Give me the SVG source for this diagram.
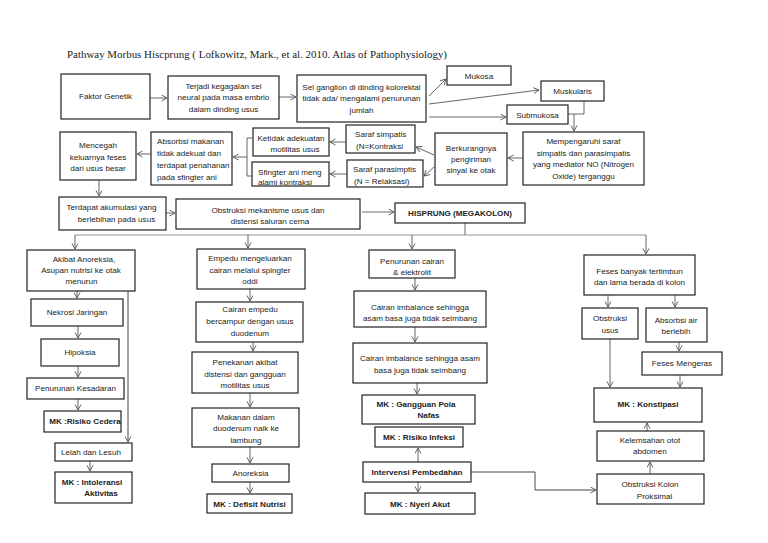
<svg xmlns="http://www.w3.org/2000/svg" width="768" height="543" viewBox="0 0 768 543">
<style>
.bx{fill:#fff;stroke:#222;stroke-width:1.2}
.t{font-family:"Liberation Sans",Arial,sans-serif;font-size:8.1px;fill:#222;text-anchor:middle}
.b{font-weight:bold}
.l{text-anchor:start}
.c{fill:none;stroke:#555;stroke-width:0.9}
.a{marker-end:url(#ar)}
.title{font-family:"Liberation Serif","Times New Roman",serif;font-size:11px;fill:#222}
</style>
<defs>
<marker id="ar" markerUnits="userSpaceOnUse" markerWidth="8" markerHeight="8" refX="6" refY="3.5" orient="auto">
<path d="M0.5,0.5 L6,3.5 L0.5,6.5" fill="none" stroke="#555" stroke-width="0.9"/>
</marker>
</defs>
<rect width="768" height="543" fill="#fff"/>
<text class="title" x="67" y="58" textLength="380" lengthAdjust="spacingAndGlyphs">Pathway Morbus Hiscprung ( Lofkowitz, Mark., et al. 2010. Atlas of Pathophysiology)</text>

<g id="connectors">
<path class="c a" d="M150,98 H167"/>
<path class="c a" d="M279,97 H296"/>
<path class="c a" d="M429,96 L446,79"/>
<path class="c a" d="M429,104 L539,90"/>
<path class="c a" d="M429,117 H506"/>
<path class="c" d="M584,101 V114 H568"/>
<path class="c a" d="M574,114 V131"/>
<path class="c a" d="M523,158 H508"/>
<path class="c a" d="M434,155 L416,147"/>
<path class="c a" d="M434,167 L424,176"/>
<path class="c a" d="M346,142 H330"/>
<path class="c a" d="M347,174 H330"/>
<path class="c" d="M252,138 H247 V176 H252"/>
<path class="c a" d="M247,157 H233"/>
<path class="c a" d="M151,154 H137"/>
<path class="c a" d="M99,180 V196"/>
<path class="c a" d="M166,213 H175"/>
<path class="c a" d="M362,212 H394"/>
<path class="c" d="M465,223 V235"/>
<path class="c" d="M75,235 H646" stroke-width="1.6" style="stroke:#888"/>
<path class="c a" d="M75,235 V249"/>
<path class="c a" d="M248,235 V248"/>
<path class="c a" d="M412,235 V249"/>
<path class="c a" d="M646,235 V254"/>
<path class="c a" d="M77,291 V298"/>
<path class="c a" d="M78,326 V338"/>
<path class="c a" d="M78,366 V377"/>
<path class="c a" d="M78,399 V410"/>
<path class="c a" d="M128,291 V442" style="stroke:#333"/>
<path class="c a" d="M90,461 V471"/>
<path class="c a" d="M250,289 V301"/>
<path class="c a" d="M253,342 V351"/>
<path class="c a" d="M250,393 V407"/>
<path class="c a" d="M250,447 V463"/>
<path class="c a" d="M250,482 V493"/>
<path class="c a" d="M415,278 V290"/>
<path class="c a" d="M415,327 V342"/>
<path class="c a" d="M417,383 V394"/>
<path class="c a" d="M418,462 V448"/>
<path class="c a" d="M418,482 V492"/>
<path class="c a" d="M471,472 H535 V490 H596" style="stroke:#333"/>
<path class="c a" d="M608,295 V307"/>
<path class="c a" d="M675,295 V307"/>
<path class="c a" d="M679,342 V351"/>
<path class="c a" d="M610,339 V387"/>
<path class="c a" d="M680,375 V387"/>
<path class="c a" d="M647,431 V423"/>
<path class="c a" d="M650,474 V462"/>
</g>

<g id="faktor"><rect class="bx" x="61" y="74" width="89" height="45"/><text class="t" x="105.5" y="99.3">Faktor Genetik</text></g>
<g id="terjadi"><rect class="bx" x="168" y="76" width="111" height="43"/><text class="t" x="223.5" y="88.8">Terjadi kegagalan sel</text><text class="t" x="223.5" y="100.3">neural pada masa embrio</text><text class="t" x="223.5" y="111.8">dalam dinding usus</text></g>
<g id="ganglion"><rect class="bx" x="297" y="75" width="129" height="47"/><text class="t" x="361.5" y="89.8">Sel ganglion di dinding kolorektal</text><text class="t" x="361.5" y="101.3">tidak ada/ mengalami penurunan</text><text class="t" x="361.5" y="112.8">jumlah</text></g>
<g id="mukosa"><rect class="bx" x="447" y="66" width="64" height="19"/><text class="t" x="479" y="78.5">Mukosa</text></g>
<g id="muskularis"><rect class="bx" x="541" y="81" width="63" height="20"/><text class="t" x="572.5" y="94">Muskularis</text></g>
<g id="submukosa"><rect class="bx" x="507" y="105" width="61" height="19"/><text class="t" x="537.5" y="117.5">Submukosa</text></g>
<g id="mempengaruhi"><rect class="bx" x="523" y="132" width="121" height="53"/><text class="t" x="583.5" y="144">Mempengaruhi saraf</text><text class="t" x="583.5" y="155.5">simpatis dan parasimpatis</text><text class="t" x="583.5" y="167">yang mediator NO (Nitrogen</text><text class="t" x="583.5" y="178.5">Oxide) terganggu</text></g>
<g id="berkurangnya"><rect class="bx" x="435" y="133" width="72" height="52"/><text class="t" x="471" y="150.8">Berkurangnya</text><text class="t" x="471" y="162">pengiriman</text><text class="t" x="471" y="173.3">sinyal ke otak</text></g>
<g id="simpatis"><rect class="bx" x="346" y="125" width="69" height="28"/><text class="t l" x="355" y="137">Saraf simpatis</text><text class="t l" x="356" y="148.5">(N=Kontraksi</text></g>
<g id="parasimpatis"><rect class="bx" x="347" y="160" width="76" height="27"/><text class="t l" x="353" y="172">Saraf parasimptis</text><text class="t l" x="354" y="184">(N = Relaksasi)</text></g>
<g id="ketidak"><rect class="bx" x="253" y="128" width="76" height="28"/><text class="t" x="291" y="141">Ketidak adekuatan</text><text class="t" x="295" y="152">motilitas usus</text></g>
<g id="sfingter"><rect class="bx" x="252" y="162" width="77" height="24"/><text class="t l" x="258" y="174.5">Sfingter ani meng</text><text class="t l" x="258" y="184.5">alami kontraksi</text></g>
<g id="absorbsi-makanan"><rect class="bx" x="151" y="132" width="81" height="53"/><text class="t l" x="157" y="144">Absorbsi makanan</text><text class="t l" x="157" y="156">tidak adekuat dan</text><text class="t l" x="157" y="168">terdapat penahanan</text><text class="t l" x="157" y="180">pada sfingter ani</text></g>
<g id="mencegah"><rect class="bx" x="60" y="132" width="76" height="48"/><text class="t" x="98" y="148">Mencegah</text><text class="t" x="98" y="160">keluarnya feses</text><text class="t" x="98" y="171">dari usus besar</text></g>
<g id="terdapat"><rect class="bx" x="59" y="197" width="107" height="33"/><text class="t" x="111.5" y="210">Terdapat akumulasi yang</text><text class="t" x="116.5" y="222">berlebihan pada usus</text></g>
<g id="obstruksi-mekanisme"><rect class="bx" x="176" y="199" width="184" height="30"/><text class="t" x="268" y="213">Obstruksi mekanisme usus dan</text><text class="t" x="270" y="224">distensi saluran cerna</text></g>
<g id="hisprung"><rect class="bx" x="395" y="203" width="130" height="20"/><text class="t b" x="460" y="215.5">HISPRUNG (MEGAKOLON)</text></g>

<g id="akibat"><rect class="bx" x="27" y="250" width="108" height="41"/><text class="t" x="84" y="262">Akibat Anoreksia,</text><text class="t" x="81" y="273">Asupan nutrisi ke otak</text><text class="t" x="81.5" y="284">menurun</text></g>
<g id="nekrosi"><rect class="bx" x="31" y="299" width="92" height="27"/><text class="t" x="77" y="315">Nekrosi Jaringan</text></g>
<g id="hipoksia"><rect class="bx" x="41" y="339" width="78" height="27"/><text class="t" x="80" y="355">Hipoksia</text></g>
<g id="kesadaran"><rect class="bx" x="27" y="378" width="97" height="21"/><text class="t" x="75.5" y="391">Penurunan Kesadaran</text></g>
<g id="cedera"><rect class="bx" x="44" y="411" width="77" height="21"/><text class="t b" x="85" y="424">MK :Risiko Cedera</text></g>
<g id="lelah"><rect class="bx" x="55" y="443" width="77" height="18"/><text class="t" x="91" y="455">Lelah dan Lesuh</text></g>
<g id="intoleransi"><rect class="bx" x="55" y="472" width="77" height="31"/><text class="t b" x="92" y="485">MK : Intoleransi</text><text class="t b" x="101" y="496">Aktivitas</text></g>

<g id="empedu"><rect class="bx" x="197" y="249" width="108" height="40"/><text class="t" x="250" y="261">Empedu mengeluarkan</text><text class="t" x="250" y="273">cairan melalui spingter</text><text class="t" x="250" y="284">oddi</text></g>
<g id="cairan-empedu"><rect class="bx" x="196" y="302" width="107" height="40"/><text class="t" x="250" y="312">Cairan empedu</text><text class="t" x="250" y="324">bercampur dengan usus</text><text class="t" x="250" y="336">duodenum</text></g>
<g id="penekanan"><rect class="bx" x="192" y="352" width="106" height="41"/><text class="t" x="245" y="365">Penekanan akibat</text><text class="t" x="245" y="377">distensi dan gangguan</text><text class="t" x="245" y="388">motilitas usus</text></g>
<g id="makanan"><rect class="bx" x="192" y="408" width="107" height="39"/><text class="t" x="246" y="420">Makanan dalam</text><text class="t" x="246" y="431">duodenum naik ke</text><text class="t" x="246" y="442.5">lambung</text></g>
<g id="anoreksia"><rect class="bx" x="212" y="464" width="77" height="18"/><text class="t" x="250.5" y="476">Anoreksia</text></g>
<g id="defisit"><rect class="bx" x="207" y="494" width="85" height="19"/><text class="t b" x="249.5" y="507">MK : Defisit Nutrisi</text></g>

<g id="penurunan-cairan"><rect class="bx" x="369" y="250" width="86" height="28"/><text class="t" x="412" y="264">Penurunan cairan</text><text class="t" x="412" y="275">&amp; elektrolit</text></g>
<g id="imbalance1"><rect class="bx" x="354" y="291" width="132" height="36"/><text class="t" x="420" y="310">Cairan imbalance sehingga</text><text class="t" x="420" y="321">asam basa juga tidak seimbang</text></g>
<g id="imbalance2"><rect class="bx" x="353" y="343" width="134" height="40"/><text class="t" x="420" y="361">Cairan imbalance sehingga asam</text><text class="t" x="420" y="373">basa juga tidak seimbang</text></g>
<g id="pola-nafas"><rect class="bx" x="362" y="395" width="113" height="29"/><text class="t b" x="416" y="407">MK : Gangguan Pola</text><text class="t b" x="428.5" y="417.5">Nafas</text></g>
<g id="infeksi"><rect class="bx" x="375" y="427" width="88" height="20"/><text class="t b" x="419" y="440">MK : Risiko Infeksi</text></g>
<g id="intervensi"><rect class="bx" x="363" y="462" width="108" height="20"/><text class="t b" x="417" y="475">Intervensi Pembedahan</text></g>
<g id="nyeri"><rect class="bx" x="365" y="493" width="110" height="21"/><text class="t b" x="420" y="507">MK : Nyeri Akut</text></g>

<g id="feses-banyak"><rect class="bx" x="584" y="255" width="111" height="40"/><text class="t" x="639.5" y="274">Feses banyak tertimbun</text><text class="t" x="639.5" y="285">dan lama berada di kolon</text></g>
<g id="obstruksi-usus"><rect class="bx" x="582" y="308" width="56" height="31"/><text class="t" x="610" y="321">Obstruksi</text><text class="t" x="610" y="333">usus</text></g>
<g id="absorbsi-air"><rect class="bx" x="646" y="308" width="61" height="34"/><text class="t" x="676" y="323">Absorbsi air</text><text class="t" x="676" y="334">berlebih</text></g>
<g id="feses-mengeras"><rect class="bx" x="642" y="352" width="80" height="23"/><text class="t" x="682" y="366">Feses Mengeras</text></g>
<g id="konstipasi"><rect class="bx" x="594" y="388" width="108" height="34"/><text class="t b" x="648" y="407">MK : Konstipasi</text></g>
<g id="kelemsahan"><rect class="bx" x="597" y="431" width="107" height="30"/><text class="t" x="650" y="443">Kelemsahan otot</text><text class="t" x="650" y="454">abdomen</text></g>
<g id="obstruksi-kolon"><rect class="bx" x="597" y="474" width="107" height="30"/><text class="t" x="650" y="487">Obstruksi Kolon</text><text class="t" x="654.5" y="499">Proksimal</text></g>
</svg>
